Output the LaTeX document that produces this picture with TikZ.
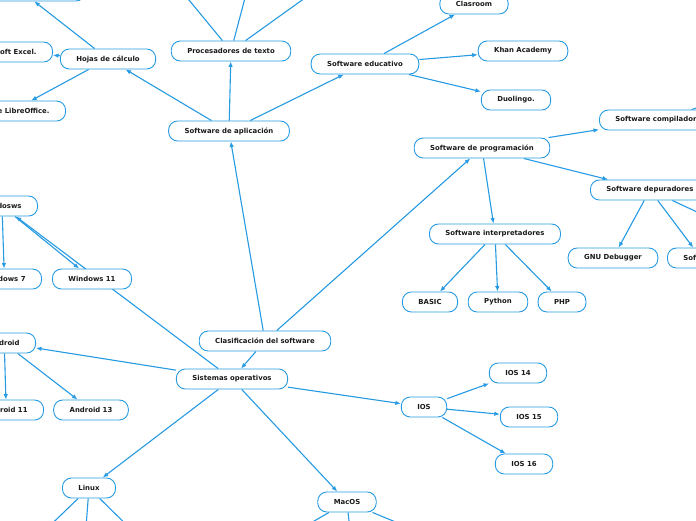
\documentclass[tikz,border=0pt]{standalone}
\usepackage{fontspec}
\setmainfont{DejaVu Sans}
\usetikzlibrary{arrows.meta,backgrounds}
\definecolor{mapblue}{RGB}{38,154,226}
\definecolor{maptext}{RGB}{26,26,26}
\tikzset{
  mapbox/.style={draw=mapblue, line width=0.9pt, rounded corners=9pt, fill=white,
    minimum height=20pt, inner xsep=16pt, inner ysep=2pt, text=maptext,
    font=\fontsize{6.9}{8}\selectfont\bfseries},
  mapedge/.style={draw=mapblue, line width=1.1pt, -{Latex[length=5.5pt,width=4.5pt]}}
}
\begin{document}
\begin{tikzpicture}[x=1pt, y=-1pt]
% Set the page size
\useasboundingbox (0,0) rectangle (696,520);

% Software de aplicacion and its branches
\node[mapbox, minimum width=128pt] (hojasTop) at (21,-9) {};
\node[mapbox, anchor=east] (excel) at (53,52) {Microsoft Excel.};
\node[mapbox] (hojas) at (108,59) {Hojas de cálculo};
\node[mapbox, anchor=east] (calc) at (66,111) {Calc de LibreOffice.};
\node[mapbox] (procesadores) at (231,51) {Procesadores de texto};
\node[mapbox] (educativo) at (365,64) {Software educativo};
\node[mapbox] (clasroom) at (474,4) {Clasroom};
\node[mapbox] (khan) at (523,51) {Khan Academy};
\node[mapbox] (duolingo) at (516,100) {Duolingo.};
\node[mapbox] (aplicacion) at (229,131) {Software de aplicación};

% Software de programacion and its branches
\node[mapbox] (programacion) at (482,148) {Software de programación};
\node[mapbox, anchor=west] (compilador) at (599,120) {Software compiladores};
\node[mapbox, anchor=west] (depuradores) at (590,190) {Software depuradores};
\node[mapbox] (gnu) at (613,258) {GNU Debugger};
\node[mapbox, anchor=west] (depSof) at (667,258) {Software};
\node[mapbox] (interpretadores) at (495,234) {Software interpretadores};
\node[mapbox] (basic) at (430,302) {BASIC};
\node[mapbox] (python) at (498,302) {Python};
\node[mapbox] (php) at (562,302) {PHP};

% Sistemas operativos and its branches
\node[mapbox, anchor=east] (windosws) at (38,206) {Windosws};
\node[mapbox, anchor=east] (win7) at (42,279) {Windows 7};
\node[mapbox] (win11) at (92,279) {Windows 11};
\node[mapbox, anchor=east] (android) at (36,343) {Android};
\node[mapbox, anchor=east] (android11) at (44,410) {Android 11};
\node[mapbox] (android13) at (91,410) {Android 13};
\node[mapbox] (clasificacion) at (265,341) {Clasificación del software};
\node[mapbox] (sistemas) at (232,379) {Sistemas operativos};
\node[mapbox] (ios) at (424,407) {IOS};
\node[mapbox] (ios14) at (518,373) {IOS 14};
\node[mapbox] (ios15) at (529,417) {IOS 15};
\node[mapbox] (ios16) at (524,464) {IOS 16};
\node[mapbox] (linux) at (89,488) {Linux};
\node[mapbox] (macos) at (347,502) {MacOS};

% Free ends outside the page
\coordinate (procA) at (156,-40);
\coordinate (procB) at (255,-40);
\coordinate (procC) at (358,-40);
\coordinate (compA) at (780,80);
\coordinate (depA) at (800,260);
\coordinate (linuxA) at (35,540);
\coordinate (linuxB) at (85,540);
\coordinate (linuxC) at (142,540);
\coordinate (macA) at (290,535);
\coordinate (macB) at (351,540);
\coordinate (macC) at (420,532);

% Draw the connectors behind the boxes
\begin{pgfonlayer}{background}
\fill[white] (0,0) rectangle (696,520);
\draw[mapedge] (clasificacion) -- (aplicacion);
\draw[mapedge] (clasificacion) -- (programacion);
\draw[mapedge] (clasificacion) -- (sistemas);
\draw[mapedge] (aplicacion) -- (hojas);
\draw[mapedge] (aplicacion) -- (procesadores);
\draw[mapedge] (aplicacion) -- (educativo);
\draw[mapedge] (hojas) -- (hojasTop);
\draw[mapedge] (hojas) -- (excel);
\draw[mapedge] (hojas) -- (calc);
\draw[mapedge] (procesadores) -- (procA);
\draw[mapedge] (procesadores) -- (procB);
\draw[mapedge] (procesadores) -- (procC);
\draw[mapedge] (educativo) -- (clasroom);
\draw[mapedge] (educativo) -- (khan);
\draw[mapedge] (educativo) -- (duolingo);
\draw[mapedge] (programacion) -- (compilador);
\draw[mapedge] (programacion) -- (depuradores);
\draw[mapedge] (programacion) -- (interpretadores);
\draw[mapedge] (compilador) -- (compA);
\draw[mapedge] (depuradores) -- (gnu);
\draw[mapedge] (depuradores) -- (depSof);
\draw[mapedge] (depuradores) -- (depA);
\draw[mapedge] (interpretadores) -- (basic);
\draw[mapedge] (interpretadores) -- (python);
\draw[mapedge] (interpretadores) -- (php);
\draw[mapedge] (sistemas) -- (windosws);
\draw[mapedge] (windosws) -- (win7);
\draw[mapedge] (windosws) -- (win11);
\draw[mapedge] (sistemas) -- (android);
\draw[mapedge] (android) -- (android11);
\draw[mapedge] (android) -- (android13);
\draw[mapedge] (sistemas) -- (ios);
\draw[mapedge] (ios) -- (ios14);
\draw[mapedge] (ios) -- (ios15);
\draw[mapedge] (ios) -- (ios16);
\draw[mapedge] (sistemas) -- (linux);
\draw[mapedge] (sistemas) -- (macos);
\draw[mapedge] (linux) -- (linuxA);
\draw[mapedge] (linux) -- (linuxB);
\draw[mapedge] (linux) -- (linuxC);
\draw[mapedge] (macos) -- (macA);
\draw[mapedge] (macos) -- (macB);
\draw[mapedge] (macos) -- (macC);
\end{pgfonlayer}
\end{tikzpicture}
\end{document}
